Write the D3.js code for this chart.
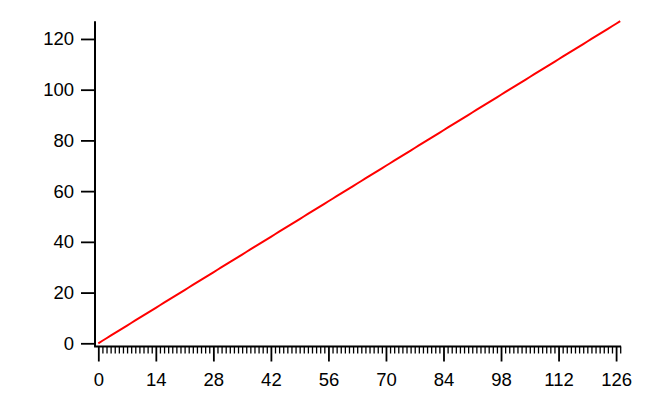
<!DOCTYPE html>
<html>
<head>
<meta charset="utf-8">
<script src="https://cdn.jsdelivr.net/npm/d3@7"></script>
<style>
  html, body { margin: 0; padding: 0; background: #fff; }
  svg { display: block; }
  text { font-family: "Liberation Sans", Arial, Helvetica, sans-serif; fill: #000; }
</style>
</head>
<body>
<svg id="chart" width="666" height="416"></svg>
<script>
// Data
const xValues = [0,1,2,3,4,5,6,7,8,9,10,11,12,13,14,15,16,17,18,19,20,21,22,23,24,25,26,27,28,29,30,31,32,33,34,35,36,37,38,39,40,41,42,43,44,45,46,47,48,49,50,51,52,53,54,55,56,57,58,59,60,61,62,63,64,65,66,67,68,69,70,71,72,73,74,75,76,77,78,79,80,81,82,83,84,85,86,87,88,89,90,91,92,93,94,95,96,97,98,99,100,101,102,103,104,105,106,107,108,109,110,111,112,113,114,115,116,117,118,119,120,121,122,123,124,125,126,127];
const yValues = [0,1,2,3,4,5,6,7,8,9,10,11,12,13,14,15,16,17,18,19,20,21,22,23,24,25,26,27,28,29,30,31,32,33,34,35,36,37,38,39,40,41,42,43,44,45,46,47,48,49,50,51,52,53,54,55,56,57,58,59,60,61,62,63,64,65,66,67,68,69,70,71,72,73,74,75,76,77,78,79,80,81,82,83,84,85,86,87,88,89,90,91,92,93,94,95,96,97,98,99,100,101,102,103,104,105,106,107,108,109,110,111,112,113,114,115,116,117,118,119,120,121,122,123,124,125,126,127];
const xMajorTicks = [0,14,28,42,56,70,84,98,112,126];
const xMinorTicks = [0,1,2,3,4,5,6,7,8,9,10,11,12,13,14,15,16,17,18,19,20,21,22,23,24,25,26,27,28,29,30,31,32,33,34,35,36,37,38,39,40,41,42,43,44,45,46,47,48,49,50,51,52,53,54,55,56,57,58,59,60,61,62,63,64,65,66,67,68,69,70,71,72,73,74,75,76,77,78,79,80,81,82,83,84,85,86,87,88,89,90,91,92,93,94,95,96,97,98,99,100,101,102,103,104,105,106,107,108,109,110,111,112,113,114,115,116,117,118,119,120,121,122,123,124,125,126,127];
const yTicks = [0,20,40,60,80,100,120];
const xDomain = [0, 127];
const yDomain = [0, 127];

const svg = d3.select("#chart");

const x = d3.scaleLinear().domain(xDomain).range([98.3, 620.2]);
const y = d3.scaleLinear().domain(yDomain).range([343.3, 21.2]);

const axisY = 346.5;   // x axis baseline (offset below y=0)
const axisX = 95;      // y axis position (offset left of x=0)
const labelFont = '"Liberation Sans", Arial, Helvetica, sans-serif';
const labelSize = 18.5;

// X axis: minor ticks
const gx = svg.append("g").attr("transform", `translate(0,${axisY})`);
gx.append("g")
  .call(d3.axisBottom(x).tickValues(xMinorTicks.filter(v => !xMajorTicks.includes(v)))
        .tickSize(7).tickFormat(""))
  .call(g => g.select(".domain").remove())
  .call(g => g.selectAll("line").attr("stroke", "#000").attr("stroke-width", 1.3));
// X axis: major ticks and labels
gx.append("g")
  .call(d3.axisBottom(x).tickValues(xMajorTicks).tickSize(15).tickPadding(11).tickFormat(d3.format("d")))
  .call(g => g.select(".domain").remove())
  .call(g => g.selectAll("line").attr("stroke", "#000").attr("stroke-width", 1.8))
  .call(g => g.selectAll("text").attr("font-size", labelSize).attr("fill", "#000")
        .attr("font-family", labelFont));
gx.append("line")
  .attr("x1", axisX - 0.9).attr("x2", x(xDomain[1]) + 0.9)
  .attr("y1", 0).attr("y2", 0)
  .attr("stroke", "#000").attr("stroke-width", 2);

// Y axis
const gy = svg.append("g").attr("transform", `translate(${axisX},0)`);
gy.call(d3.axisLeft(y).tickValues(yTicks).tickSize(14).tickPadding(7).tickFormat(d3.format("d")))
  .call(g => g.select(".domain").remove())
  .call(g => g.selectAll("line").attr("stroke", "#000").attr("stroke-width", 1.8))
  .call(g => g.selectAll("text").attr("font-size", labelSize).attr("fill", "#000")
        .attr("font-family", labelFont));
gy.append("line")
  .attr("x1", 0).attr("x2", 0)
  .attr("y1", y(yDomain[1])).attr("y2", axisY)
  .attr("stroke", "#000").attr("stroke-width", 2);

// Data line
const data = xValues.map((v, i) => [v, yValues[i]]);
svg.append("path")
  .datum(data)
  .attr("fill", "none")
  .attr("stroke", "#ff0000")
  .attr("stroke-width", 2)
  .attr("d", d3.line().x(d => x(d[0])).y(d => y(d[1])));
</script>
</body>
</html>
